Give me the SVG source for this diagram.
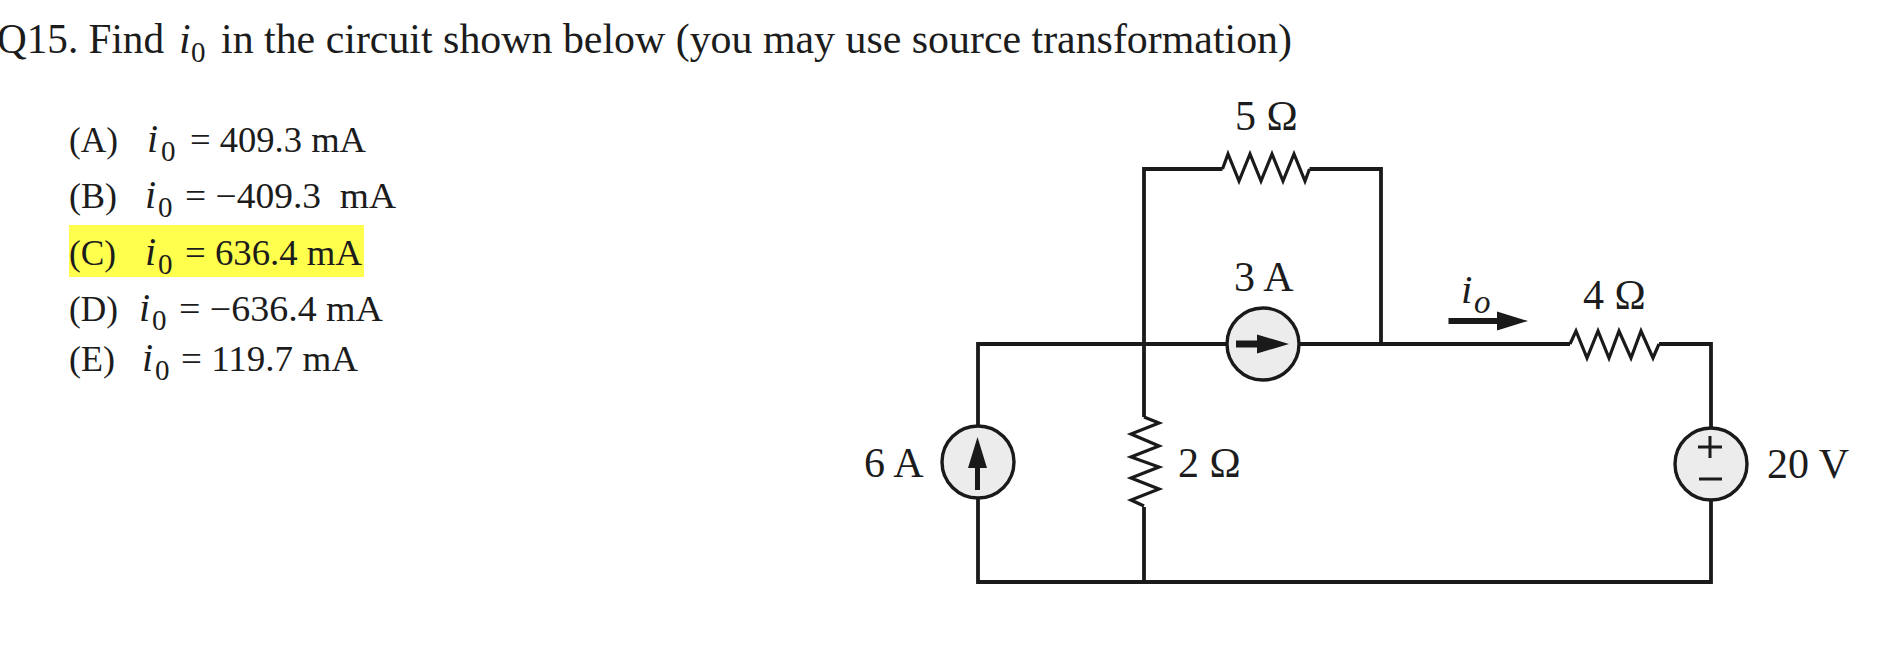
<svg xmlns="http://www.w3.org/2000/svg" width="1888" height="662" viewBox="0 0 1888 662">
<style>
text{font-family:"Liberation Serif","Times New Roman",serif;fill:#1c1c1c}
.q{font-size:42px}
.o{font-size:35px}
.l{font-size:42px}
.it{font-style:italic}
.m{font-size:40px}
.sub{font-size:29px}
.w{fill:none;stroke:#1a1a1a;stroke-width:3.8;stroke-linejoin:miter}
.r{fill:none;stroke:#1a1a1a;stroke-width:3.2;stroke-linejoin:miter}
.src{fill:#ececec;stroke:#1a1a1a;stroke-width:3.4}
.a{fill:#1a1a1a;stroke:none}
.sym{fill:none;stroke:#1a1a1a;stroke-width:3}
</style>
<rect width="1888" height="662" fill="#ffffff"/>
<g id="question">
<text class="q" x="-3" y="53" textLength="167" lengthAdjust="spacingAndGlyphs">Q15. Find</text>
<text class="q it" x="179" y="53" font-size="44">i</text>
<text class="sub" x="191" y="62">0</text>
<text class="q" x="221" y="53" textLength="1071" lengthAdjust="spacingAndGlyphs">in the circuit shown below (you may use source transformation)</text>
</g>
<g id="options">
<rect x="69" y="225" width="295" height="52" fill="#ffff4d"/>
<text class="o" x="69" y="152" textLength="49" lengthAdjust="spacingAndGlyphs">(A)</text><text class="m it" x="147" y="152">i</text><text class="sub" x="161" y="161">0</text><text class="o" x="190" y="152" textLength="176" lengthAdjust="spacingAndGlyphs">= 409.3 mA</text>
<text class="o" x="69" y="208" textLength="48" lengthAdjust="spacingAndGlyphs">(B)</text><text class="m it" x="145" y="208">i</text><text class="sub" x="158" y="217">0</text><text class="o" x="185" y="208" textLength="211" lengthAdjust="spacingAndGlyphs" xml:space="preserve">= −409.3  mA</text>
<text class="o" x="69" y="265" textLength="47" lengthAdjust="spacingAndGlyphs">(C)</text><text class="m it" x="145" y="265">i</text><text class="sub" x="158" y="274">0</text><text class="o" x="185" y="265" textLength="177" lengthAdjust="spacingAndGlyphs">= 636.4 mA</text>
<text class="o" x="69" y="321" textLength="49" lengthAdjust="spacingAndGlyphs">(D)</text><text class="m it" x="139" y="321">i</text><text class="sub" x="152" y="330">0</text><text class="o" x="179" y="321" textLength="204" lengthAdjust="spacingAndGlyphs">= −636.4 mA</text>
<text class="o" x="69" y="371" textLength="46" lengthAdjust="spacingAndGlyphs">(E)</text><text class="m it" x="142" y="371">i</text><text class="sub" x="155" y="380">0</text><text class="o" x="181" y="371" textLength="177" lengthAdjust="spacingAndGlyphs">= 119.7 mA</text>
</g>
<g id="connectors">
<path class="w" d="M1227 344H978V426M978 498V582H1711V500M1711 428V344H1659M1570 344H1299M1144 344V417M1144 507V582M1144 344V169H1222.5M1309.5 169H1381V344"/>
</g>
<g id="r5">
<polyline class="r" points="1222.500,169 1228,154 1239,181 1250,154 1261,181 1272,154 1283,181 1294,154 1305,181 1309.500,169"/>
<text class="l" x="1235" y="130" xml:space="preserve">5 Ω</text>
</g>
<g id="i3">
<circle class="src" cx="1263" cy="344" r="36"/>
<path class="a" d="M1236 340.500H1257V334.500L1289 344L1257 353.500V347.500H1236Z"/>
<text class="l" x="1234" y="291">3 A</text>
</g>
<g id="r4">
<polyline class="r" points="1570,344 1576,331 1587,358 1598,331 1609,358 1619,331 1631,358 1641,331 1653,358 1659,344"/>
<text class="l" x="1583" y="309">4 Ω</text>
</g>
<g id="io">
<path class="a" d="M1448.500 318H1497V311.500L1528 321L1497 330.500V324H1448.500Z"/>
<text class="it" font-size="41" x="1461" y="303">i</text>
<text class="it" font-size="33" x="1474" y="313">o</text>
</g>
<g id="i6">
<circle class="src" cx="978" cy="462" r="36"/>
<path class="a" d="M975 490V468H968L977.500 437L987 468H980V490Z"/>
<text class="l" x="864" y="477">6 A</text>
</g>
<g id="r2">
<polyline class="r" points="1144,417 1159,423 1131,434 1159,446 1131,457 1159,467 1131,478 1159,489 1131,500 1144,506"/>
<text class="l" x="1178" y="477">2 Ω</text>
</g>
<g id="v20">
<circle class="src" cx="1711" cy="464" r="36"/>
<path class="sym" d="M1698 447H1722M1710 436V458M1699 479H1722"/>
<text class="l" x="1767" y="478">20 V</text>
</g>
</svg>
